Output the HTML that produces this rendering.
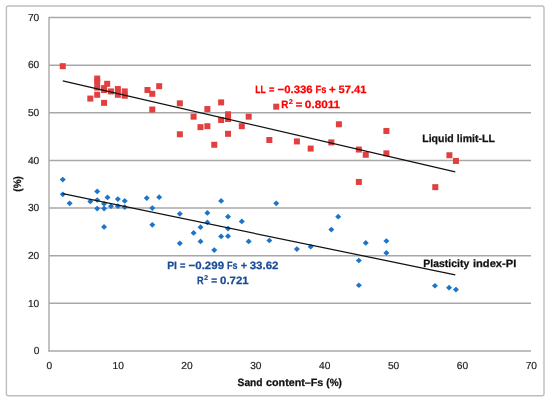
<!DOCTYPE html>
<html><head><meta charset="utf-8"><style>
html,body{margin:0;padding:0;background:#fff;}
svg{display:block;will-change:transform;}
text{font-family:"Liberation Sans",sans-serif;text-rendering:geometricPrecision;}
.tk{font-size:10.2px;fill:#222;stroke:#222;stroke-width:0.2px;}
.b{font-size:10.6px;font-weight:bold;stroke-width:0.25px;}
</style></head><body>
<svg width="550" height="402" viewBox="0 0 550 402">
<rect x="6.4" y="6.0" width="537.6" height="389.8" rx="2" fill="none" stroke="#BDBDBD" stroke-width="1.4"/>
<line x1="49.00" y1="303.37" x2="531.00" y2="303.37" stroke="#A8A8A8" stroke-width="1.5"/>
<line x1="49.00" y1="255.74" x2="531.00" y2="255.74" stroke="#A8A8A8" stroke-width="1.5"/>
<line x1="49.00" y1="208.11" x2="531.00" y2="208.11" stroke="#A8A8A8" stroke-width="1.5"/>
<line x1="49.00" y1="160.49" x2="531.00" y2="160.49" stroke="#A8A8A8" stroke-width="1.5"/>
<line x1="49.00" y1="112.86" x2="531.00" y2="112.86" stroke="#A8A8A8" stroke-width="1.5"/>
<line x1="49.00" y1="65.23" x2="531.00" y2="65.23" stroke="#A8A8A8" stroke-width="1.5"/>
<line x1="49.00" y1="17.60" x2="531.00" y2="17.60" stroke="#A8A8A8" stroke-width="1.5"/>
<line x1="49.00" y1="17.00" x2="49.00" y2="351.60" stroke="#A8A8A8" stroke-width="1.4"/>
<line x1="48.40" y1="351.00" x2="531.00" y2="351.00" stroke="#A8A8A8" stroke-width="1.4"/>
<text x="39.3" y="354.20" text-anchor="end" class="tk">0</text>
<text x="39.3" y="306.57" text-anchor="end" class="tk">10</text>
<text x="39.3" y="258.94" text-anchor="end" class="tk">20</text>
<text x="39.3" y="211.31" text-anchor="end" class="tk">30</text>
<text x="39.3" y="163.69" text-anchor="end" class="tk">40</text>
<text x="39.3" y="116.06" text-anchor="end" class="tk">50</text>
<text x="39.3" y="68.43" text-anchor="end" class="tk">60</text>
<text x="39.3" y="20.80" text-anchor="end" class="tk">70</text>
<text x="49.30" y="369.1" text-anchor="middle" class="tk">0</text>
<text x="118.16" y="369.1" text-anchor="middle" class="tk">10</text>
<text x="187.01" y="369.1" text-anchor="middle" class="tk">20</text>
<text x="255.87" y="369.1" text-anchor="middle" class="tk">30</text>
<text x="324.73" y="369.1" text-anchor="middle" class="tk">40</text>
<text x="393.59" y="369.1" text-anchor="middle" class="tk">50</text>
<text x="462.44" y="369.1" text-anchor="middle" class="tk">60</text>
<text x="531.30" y="369.1" text-anchor="middle" class="tk">70</text>
<rect x="59.77" y="63.18" width="6" height="6" fill="#E13F40"/>
<rect x="87.31" y="95.57" width="6" height="6" fill="#E13F40"/>
<rect x="94.20" y="75.56" width="6" height="6" fill="#E13F40"/>
<rect x="94.20" y="78.90" width="6" height="6" fill="#E13F40"/>
<rect x="94.20" y="84.61" width="6" height="6" fill="#E13F40"/>
<rect x="94.20" y="91.76" width="6" height="6" fill="#E13F40"/>
<rect x="101.09" y="99.86" width="6" height="6" fill="#E13F40"/>
<rect x="101.09" y="85.09" width="6" height="6" fill="#E13F40"/>
<rect x="101.09" y="87.00" width="6" height="6" fill="#E13F40"/>
<rect x="104.18" y="80.80" width="6" height="6" fill="#E13F40"/>
<rect x="107.97" y="88.42" width="6" height="6" fill="#E13F40"/>
<rect x="114.86" y="86.04" width="6" height="6" fill="#E13F40"/>
<rect x="114.86" y="91.76" width="6" height="6" fill="#E13F40"/>
<rect x="121.74" y="88.42" width="6" height="6" fill="#E13F40"/>
<rect x="121.74" y="92.71" width="6" height="6" fill="#E13F40"/>
<rect x="144.47" y="87.00" width="6" height="6" fill="#E13F40"/>
<rect x="149.29" y="90.81" width="6" height="6" fill="#E13F40"/>
<rect x="149.29" y="106.52" width="6" height="6" fill="#E13F40"/>
<rect x="156.17" y="83.19" width="6" height="6" fill="#E13F40"/>
<rect x="176.83" y="100.33" width="6" height="6" fill="#E13F40"/>
<rect x="176.83" y="131.29" width="6" height="6" fill="#E13F40"/>
<rect x="190.60" y="113.67" width="6" height="6" fill="#E13F40"/>
<rect x="197.49" y="124.15" width="6" height="6" fill="#E13F40"/>
<rect x="204.37" y="106.05" width="6" height="6" fill="#E13F40"/>
<rect x="204.37" y="123.19" width="6" height="6" fill="#E13F40"/>
<rect x="211.26" y="141.77" width="6" height="6" fill="#E13F40"/>
<rect x="218.14" y="99.38" width="6" height="6" fill="#E13F40"/>
<rect x="218.14" y="117.00" width="6" height="6" fill="#E13F40"/>
<rect x="225.03" y="111.29" width="6" height="6" fill="#E13F40"/>
<rect x="225.03" y="116.05" width="6" height="6" fill="#E13F40"/>
<rect x="225.03" y="130.81" width="6" height="6" fill="#E13F40"/>
<rect x="238.80" y="123.19" width="6" height="6" fill="#E13F40"/>
<rect x="245.69" y="113.67" width="6" height="6" fill="#E13F40"/>
<rect x="266.34" y="137.01" width="6" height="6" fill="#E13F40"/>
<rect x="273.23" y="103.67" width="6" height="6" fill="#E13F40"/>
<rect x="293.89" y="138.43" width="6" height="6" fill="#E13F40"/>
<rect x="307.66" y="145.58" width="6" height="6" fill="#E13F40"/>
<rect x="328.31" y="139.39" width="6" height="6" fill="#E13F40"/>
<rect x="335.89" y="121.29" width="6" height="6" fill="#E13F40"/>
<rect x="355.86" y="146.53" width="6" height="6" fill="#E13F40"/>
<rect x="355.86" y="178.92" width="6" height="6" fill="#E13F40"/>
<rect x="362.74" y="151.77" width="6" height="6" fill="#E13F40"/>
<rect x="383.40" y="127.96" width="6" height="6" fill="#E13F40"/>
<rect x="383.40" y="150.34" width="6" height="6" fill="#E13F40"/>
<rect x="432.29" y="184.16" width="6" height="6" fill="#E13F40"/>
<rect x="446.40" y="152.25" width="6" height="6" fill="#E13F40"/>
<rect x="452.95" y="157.96" width="6" height="6" fill="#E13F40"/>
<path d="M62.77 176.69L65.77 179.54L62.77 182.39L59.77 179.54Z" fill="#1C75C8"/>
<path d="M62.77 191.45L65.77 194.30L62.77 197.15L59.77 194.30Z" fill="#1C75C8"/>
<path d="M69.66 200.50L72.66 203.35L69.66 206.20L66.66 203.35Z" fill="#1C75C8"/>
<path d="M90.31 198.60L93.31 201.45L90.31 204.30L87.31 201.45Z" fill="#1C75C8"/>
<path d="M97.20 188.59L100.20 191.44L97.20 194.29L94.20 191.44Z" fill="#1C75C8"/>
<path d="M97.20 197.17L100.20 200.02L97.20 202.87L94.20 200.02Z" fill="#1C75C8"/>
<path d="M97.20 205.74L100.20 208.59L97.20 211.44L94.20 208.59Z" fill="#1C75C8"/>
<path d="M104.09 200.98L107.09 203.83L104.09 206.68L101.09 203.83Z" fill="#1C75C8"/>
<path d="M104.09 205.74L107.09 208.59L104.09 211.44L101.09 208.59Z" fill="#1C75C8"/>
<path d="M107.53 194.55L110.53 197.40L107.53 200.25L104.53 197.40Z" fill="#1C75C8"/>
<path d="M110.97 203.36L113.97 206.21L110.97 209.06L107.97 206.21Z" fill="#1C75C8"/>
<path d="M117.86 196.21L120.86 199.06L117.86 201.91L114.86 199.06Z" fill="#1C75C8"/>
<path d="M117.86 203.36L120.86 206.21L117.86 209.06L114.86 206.21Z" fill="#1C75C8"/>
<path d="M124.74 198.12L127.74 200.97L124.74 203.82L121.74 200.97Z" fill="#1C75C8"/>
<path d="M124.74 204.31L127.74 207.16L124.74 210.01L121.74 207.16Z" fill="#1C75C8"/>
<path d="M104.09 224.08L107.09 226.93L104.09 229.78L101.09 226.93Z" fill="#1C75C8"/>
<path d="M146.78 195.26L149.78 198.11L146.78 200.96L143.78 198.11Z" fill="#1C75C8"/>
<path d="M152.29 205.26L155.29 208.11L152.29 210.96L149.29 208.11Z" fill="#1C75C8"/>
<path d="M152.29 221.93L155.29 224.78L152.29 227.63L149.29 224.78Z" fill="#1C75C8"/>
<path d="M159.17 194.31L162.17 197.16L159.17 200.01L156.17 197.16Z" fill="#1C75C8"/>
<path d="M179.83 210.98L182.83 213.83L179.83 216.68L176.83 213.83Z" fill="#1C75C8"/>
<path d="M179.83 240.51L182.83 243.36L179.83 246.21L176.83 243.36Z" fill="#1C75C8"/>
<path d="M193.60 230.03L196.60 232.88L193.60 235.73L190.60 232.88Z" fill="#1C75C8"/>
<path d="M200.49 224.32L203.49 227.17L200.49 230.02L197.49 227.17Z" fill="#1C75C8"/>
<path d="M200.49 238.60L203.49 241.45L200.49 244.30L197.49 241.45Z" fill="#1C75C8"/>
<path d="M207.37 210.03L210.37 212.88L207.37 215.73L204.37 212.88Z" fill="#1C75C8"/>
<path d="M207.37 219.55L210.37 222.40L207.37 225.25L204.37 222.40Z" fill="#1C75C8"/>
<path d="M214.26 247.18L217.26 250.03L214.26 252.88L211.26 250.03Z" fill="#1C75C8"/>
<path d="M221.14 198.12L224.14 200.97L221.14 203.82L218.14 200.97Z" fill="#1C75C8"/>
<path d="M221.14 233.56L224.14 236.41L221.14 239.26L218.14 236.41Z" fill="#1C75C8"/>
<path d="M228.03 213.84L231.03 216.69L228.03 219.54L225.03 216.69Z" fill="#1C75C8"/>
<path d="M228.03 225.74L231.03 228.59L228.03 231.44L225.03 228.59Z" fill="#1C75C8"/>
<path d="M228.03 233.37L231.03 236.22L228.03 239.07L225.03 236.22Z" fill="#1C75C8"/>
<path d="M241.80 218.60L244.80 221.45L241.80 224.30L238.80 221.45Z" fill="#1C75C8"/>
<path d="M248.69 238.60L251.69 241.45L248.69 244.30L245.69 241.45Z" fill="#1C75C8"/>
<path d="M269.34 237.65L272.34 240.50L269.34 243.35L266.34 240.50Z" fill="#1C75C8"/>
<path d="M276.23 200.50L279.23 203.35L276.23 206.20L273.23 203.35Z" fill="#1C75C8"/>
<path d="M296.89 246.22L299.89 249.07L296.89 251.92L293.89 249.07Z" fill="#1C75C8"/>
<path d="M310.66 243.84L313.66 246.69L310.66 249.54L307.66 246.69Z" fill="#1C75C8"/>
<path d="M331.31 226.70L334.31 229.55L331.31 232.40L328.31 229.55Z" fill="#1C75C8"/>
<path d="M338.20 213.84L341.20 216.69L338.20 219.54L335.20 216.69Z" fill="#1C75C8"/>
<path d="M358.86 257.66L361.86 260.51L358.86 263.36L355.86 260.51Z" fill="#1C75C8"/>
<path d="M358.86 282.42L361.86 285.27L358.86 288.12L355.86 285.27Z" fill="#1C75C8"/>
<path d="M365.74 240.03L368.74 242.88L365.74 245.73L362.74 242.88Z" fill="#1C75C8"/>
<path d="M386.40 238.13L389.40 240.98L386.40 243.83L383.40 240.98Z" fill="#1C75C8"/>
<path d="M386.40 250.04L389.40 252.89L386.40 255.74L383.40 252.89Z" fill="#1C75C8"/>
<path d="M434.94 282.90L437.94 285.75L434.94 288.60L431.94 285.75Z" fill="#1C75C8"/>
<path d="M449.06 284.80L452.06 287.65L449.06 290.50L446.06 287.65Z" fill="#1C75C8"/>
<path d="M455.95 286.71L458.95 289.56L455.95 292.41L452.95 289.56Z" fill="#1C75C8"/>
<line x1="62.77" y1="80.77" x2="455.26" y2="171.98" stroke="#111" stroke-width="1.25"/>
<line x1="62.77" y1="193.72" x2="455.26" y2="274.89" stroke="#111" stroke-width="1.25"/>
<text transform="translate(255.23,92.70) scale(0.815,1)" class="b" fill="#FF0000" stroke="#FF0000">LL</text>
<text transform="translate(268.95,92.70) scale(0.870,1)" class="b" fill="#FF0000" stroke="#FF0000">=</text>
<text transform="translate(277.57,92.70) scale(1.072,1)" class="b" fill="#FF0000" stroke="#FF0000">−0.336</text>
<text transform="translate(315.59,92.70) scale(0.875,1)" class="b" fill="#FF0000" stroke="#FF0000">Fs</text>
<text transform="translate(329.07,92.70) scale(1.074,1)" class="b" fill="#FF0000" stroke="#FF0000">+</text>
<text transform="translate(338.58,92.70) scale(1.054,1)" class="b" fill="#FF0000" stroke="#FF0000">57.41</text>
<text transform="translate(281.25,107.80) scale(0.925,1)" class="b" fill="#FF0000" stroke="#FF0000">R</text>
<text transform="translate(295.77,107.90) scale(1.074,1)" class="b" fill="#FF0000" stroke="#FF0000">=</text>
<text transform="translate(304.86,107.90) scale(1.109,1)" class="b" fill="#FF0000" stroke="#FF0000">0.8011</text>
<text transform="translate(167.22,268.90) scale(0.977,1)" class="b" fill="#1A4C96" stroke="#1A4C96">PI</text>
<text transform="translate(179.95,268.90) scale(0.870,1)" class="b" fill="#1A4C96" stroke="#1A4C96">=</text>
<text transform="translate(188.57,268.90) scale(1.085,1)" class="b" fill="#1A4C96" stroke="#1A4C96">−0.299</text>
<text transform="translate(227.01,268.90) scale(0.848,1)" class="b" fill="#1A4C96" stroke="#1A4C96">Fs</text>
<text transform="translate(240.79,268.90) scale(1.037,1)" class="b" fill="#1A4C96" stroke="#1A4C96">+</text>
<text transform="translate(249.67,268.90) scale(1.085,1)" class="b" fill="#1A4C96" stroke="#1A4C96">33.62</text>
<text transform="translate(197.09,284.00) scale(0.866,1)" class="b" fill="#1A4C96" stroke="#1A4C96">R</text>
<text transform="translate(211.32,283.90) scale(0.944,1)" class="b" fill="#1A4C96" stroke="#1A4C96">=</text>
<text transform="translate(220.07,283.90) scale(1.081,1)" class="b" fill="#1A4C96" stroke="#1A4C96">0.721</text>
<text transform="translate(422.20,141.90) scale(0.993,1)" class="b" fill="#111" stroke="#111">Liquid</text>
<text transform="translate(456.80,141.90) scale(0.995,1)" class="b" fill="#111" stroke="#111">limit-LL</text>
<text transform="translate(423.31,266.50) scale(0.987,1)" class="b" fill="#111" stroke="#111">Plasticity</text>
<text transform="translate(472.96,266.50) scale(1.050,1)" class="b" fill="#111" stroke="#111">index-PI</text>
<text transform="translate(237.61,385.60) scale(0.964,1)" class="b" fill="#111" stroke="#111">Sand</text>
<text transform="translate(266.09,385.60) scale(1.013,1)" class="b" fill="#111" stroke="#111">content–Fs</text>
<text transform="translate(326.33,385.60) scale(0.948,1)" class="b" fill="#111" stroke="#111">(%)</text>
<text transform="translate(288.72,103.80) scale(0.706,0.662)" class="b" fill="#FF0000" stroke="#FF0000" stroke-width="0.35">2</text>
<text transform="translate(204.02,279.90) scale(0.706,0.662)" class="b" fill="#1A4C96" stroke="#1A4C96" stroke-width="0.35">2</text>
<text transform="translate(20.7,191.67) rotate(-90) scale(0.948,1)" class="b" fill="#111" stroke="#111">(%)</text>
</svg>
</body></html>
